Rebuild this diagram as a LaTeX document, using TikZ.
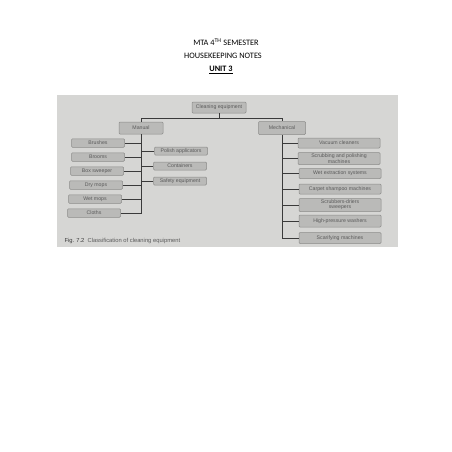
\documentclass[tikz,border=0pt]{standalone}
\usepackage{fontspec}
\setmainfont{Carlito}
\newfontfamily\boxfont{Liberation Sans}
\usetikzlibrary{calc}
\definecolor{photobg}{HTML}{D6D6D4}
\definecolor{boxfill}{HTML}{BABAB8}
\definecolor{boxline}{HTML}{8C8C8A}
\definecolor{boxtext}{HTML}{5A5A5A}
\definecolor{wire}{HTML}{3A3A3A}

\tikzset{
  item/.style={draw=boxline, fill=boxfill, rounded corners=1pt, line width=0.5pt,
    inner sep=0pt, align=center, text=boxtext,
    font=\boxfont\fontsize{5.2}{4.8}\selectfont},
  leftitem/.style={item, minimum width=53pt, minimum height=8.5pt},
  miditem/.style={item, minimum width=53pt, minimum height=8pt},
  rightitem/.style={item, minimum width=82pt, minimum height=10pt},
  head/.style={item, minimum height=12pt},
  wire/.style={draw=wire, line width=1pt},
}

\begin{document}
\begin{tikzpicture}[x=1pt, y=-1pt]
    \useasboundingbox (0,0) rectangle (452,452);
    \fill[white] (0,0) rectangle (452,452);
    % page header
    \node[font=\fontsize{8.3}{9}\selectfont] (title) at (226,42) {MTA 4\textsuperscript{TH} SEMESTER};
    \node[font=\fontsize{8.3}{9}\selectfont] (notes) at (223,56) {HOUSEKEEPING NOTES};
    \node[font=\bfseries\fontsize{8.3}{9}\selectfont] (unit) at (221,70) {\underline{UNIT 3}};
    % photographed figure
    \fill[photobg] (57,95) rectangle (398,247);
    \node[head, minimum width=54pt, minimum height=11pt] (clean) at (219,107.5) {Cleaning equipment};
    \node[head, minimum width=44pt] (manual) at (141,128) {Manual};
    \node[head, minimum width=47pt, minimum height=13pt] (mech) at (282,128) {Mechanical};

    \node[leftitem] (brushes) at (98,143) {Brushes};
    \node[leftitem] (brooms) at (98,157) {Brooms};
    \node[leftitem] (sweeper) at (97,171) {Box sweeper};
    \node[leftitem] (drymops) at (96,185) {Dry mops};
    \node[leftitem] (wetmops) at (95,199) {Wet mops};
    \node[leftitem] (cloths) at (94,213) {Cloths};

    \node[miditem] (polish) at (181,151) {Polish applicators};
    \node[miditem] (contain) at (180,166) {Containers};
    \node[miditem] (safety) at (180,181) {Safety equipment};

    \node[rightitem] (vacuum) at (339,143) {Vacuum cleaners};
    \node[rightitem, minimum height=12pt] (scrub) at (339,158.5) {Scrubbing and polishing\\machines};
    \node[rightitem] (wetext) at (340,173.5) {Wet extraction systems};
    \node[rightitem] (carpet) at (340,189) {Carpet shampoo machines};
    \node[rightitem, minimum height=13pt] (driers) at (340,205) {Scrubbers-driers\\sweepers};
    \node[rightitem, minimum height=12pt] (washers) at (340,221) {High-pressure washers};
    \node[rightitem, minimum height=11pt] (scarify) at (340,238) {Scarifying machines};

    \coordinate (bus) at (219,118.5);
    \draw[wire] (clean.south) -- (bus) -| (manual.north);
    \draw[wire] (bus) -| (mech.north);

    \draw[wire] (manual.south) |- (cloths.east);
    \foreach \n in {brushes, brooms, sweeper, drymops, wetmops}
      \draw[wire] (\n.east) -- (\n.east -| manual.south);
    \foreach \n in {polish, contain, safety}
      \draw[wire] (\n.west) -- (\n.west -| manual.south);

    \draw[wire] (mech.south) |- (scarify.west);
    \foreach \n in {vacuum, scrub, wetext, carpet, driers, washers}
      \draw[wire] (\n.west) -- (\n.west -| mech.south);

    \node[anchor=west, text=boxtext, font=\boxfont\fontsize{5.8}{6}\selectfont] (caption) at (61,240.5)
      {\textcolor{wire}{Fig. 7.2}\ \ Classification of cleaning equipment};
  \end{tikzpicture}
\end{document}
